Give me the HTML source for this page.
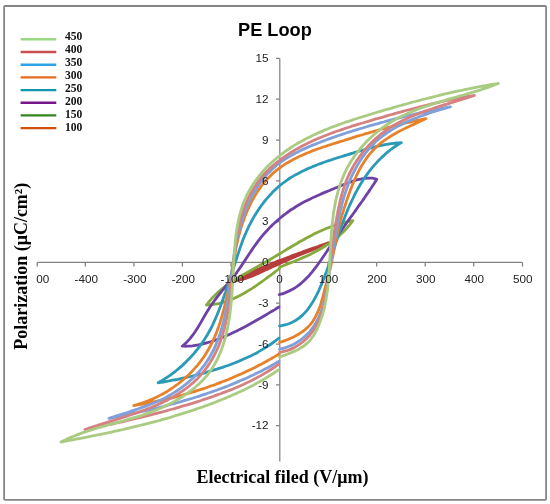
<!DOCTYPE html>
<html><head><meta charset="utf-8"><title>PE Loop</title>
<style>
html,body{margin:0;padding:0;background:#fff;}
svg{display:block;}
.ax{font-family:"Liberation Sans",sans-serif;font-size:11.7px;fill:#222;}
.lg{font-family:"Liberation Serif",serif;font-weight:bold;font-size:11.6px;fill:#111;}
.tt{font-family:"Liberation Serif",serif;font-weight:bold;font-size:18px;fill:#000;}
.curves path{stroke-width:2.8;stroke-linejoin:round;stroke-linecap:round;}
.legend line{stroke-width:2.4;}
</style></head>
<body>
<svg width="550" height="504" viewBox="0 0 550 504">
<rect x="0" y="0" width="550" height="504" fill="#fff"/>
<rect x="4.1" y="6" width="542" height="493.8" fill="none" stroke="#858585" stroke-width="1.8" rx="1"/>
<text x="238" y="36.2" font-family="Liberation Sans, sans-serif" font-weight="bold" font-size="18.2px" fill="#000">PE Loop</text>
<g stroke="#828282" stroke-width="1.25" fill="none">
<path d="M279.8 58.4V461.5"/>
<path d="M37.2 262.4H522.5"/>
<path d="M276 58.4h3.8M276 99.2h3.8M276 140h3.8M276 180.8h3.8M276 221.6h3.8M276 303.2h3.8M276 344h3.8M276 384.8h3.8M276 425.6h3.8"/>
<path d="M37.2 262.4v4M85.3 262.4v4M133.9 262.4v4M182.4 262.4v4M231 262.4v4M328.1 262.4v4M376.6 262.4v4M425.2 262.4v4M473.7 262.4v4M522.5 262.4v4"/>
</g>
<defs><filter id="soft" x="-5%" y="-5%" width="110%" height="110%"><feGaussianBlur stdDeviation="0.35"/></filter></defs>
<g class="curves" fill="none" filter="url(#soft)">
<path d="M279.5 263.4C286.3 260.5 293.1 257.4 300.0 254.6C305.0 252.6 310.0 250.9 315.0 248.8C319.5 246.9 324.0 244.8 328.5 242.8C326.9 243.4 325.3 243.9 323.6 244.5C322.0 245.1 320.4 245.6 318.8 246.2C317.2 246.8 315.6 247.3 313.9 247.9C312.3 248.5 310.7 249.1 309.1 249.6C307.5 250.2 305.9 250.8 304.2 251.4C302.6 252.0 301.0 252.5 299.4 253.1C297.8 253.7 296.2 254.3 294.6 254.9C293.0 255.5 291.4 256.1 289.7 256.7C288.1 257.3 286.5 257.9 284.9 258.5C283.3 259.1 281.7 259.8 280.1 260.4C278.5 261.0 276.9 261.6 275.3 262.3C273.7 262.9 272.1 263.5 270.5 264.2C269.0 264.8 267.4 265.5 265.8 266.1C264.2 266.8 262.6 267.4 261.0 268.1C259.5 268.8 257.9 269.5 256.3 270.1C254.7 270.8 253.2 271.5 251.6 272.2C250.0 272.9 248.5 273.6 246.9 274.3C245.4 275.1 243.8 275.8 242.3 276.5C240.7 277.2 239.2 278.0 237.6 278.7C236.1 279.5 234.5 280.2 233.0 281.0C234.8 280.7 236.7 280.5 238.5 280.2C240.3 279.8 242.1 279.3 243.9 278.8C245.6 278.3 247.4 277.7 249.1 277.1C250.8 276.5 252.5 275.8 254.2 275.1C255.9 274.4 257.6 273.6 259.3 272.9C261.0 272.1 262.7 271.3 264.3 270.5C266.0 269.8 267.7 269.0 269.4 268.2C271.0 267.4 272.7 266.6 274.4 265.9C276.1 265.2 277.8 264.5 279.5 263.8" stroke="#B73E3E" fill="#B73E3E"/>
<path d="M279.5 267.2C281.1 266.6 282.7 265.9 284.3 265.3C285.9 264.7 287.5 264.1 289.1 263.4C290.7 262.8 292.3 262.1 293.9 261.5C295.5 260.8 297.1 260.1 298.7 259.5C300.3 258.8 301.9 258.1 303.5 257.4C305.1 256.7 306.7 256.0 308.3 255.2C309.8 254.5 311.4 253.7 312.9 252.9C314.5 252.2 316.0 251.4 317.5 250.5C319.0 249.7 320.6 248.9 322.0 248.0C323.5 247.1 325.0 246.2 326.4 245.3C327.9 244.4 329.3 243.4 330.7 242.4C332.1 241.5 333.5 240.4 334.8 239.4C336.2 238.3 337.5 237.3 338.8 236.1C340.1 235.0 341.4 233.8 342.6 232.6C343.9 231.4 345.1 230.2 346.2 228.9C347.4 227.6 348.5 226.3 349.6 224.9C350.7 223.6 351.7 222.1 352.8 220.7C351.1 221.0 349.5 221.3 347.8 221.7C346.1 222.0 344.5 222.4 342.9 222.9C341.3 223.3 339.6 223.8 338.0 224.3C336.5 224.8 334.9 225.3 333.3 225.8C331.7 226.4 330.2 227.0 328.6 227.6C327.1 228.2 325.5 228.8 324.0 229.5C322.5 230.1 321.0 230.8 319.5 231.5C318.0 232.2 316.5 232.9 315.0 233.6C313.5 234.4 312.0 235.1 310.5 235.9C309.0 236.7 307.6 237.4 306.1 238.2C304.6 239.0 303.2 239.8 301.7 240.7C300.3 241.5 298.8 242.3 297.4 243.2C295.9 244.0 294.5 244.9 293.0 245.7C291.6 246.6 290.1 247.4 288.7 248.3C287.3 249.2 285.8 250.0 284.4 250.9C282.9 251.8 281.5 252.7 280.1 253.5C278.6 254.4 277.2 255.3 275.7 256.1C274.3 257.0 272.8 257.9 271.4 258.7C269.9 259.6 268.5 260.5 267.0 261.3C265.6 262.1 264.1 263.0 262.6 263.8C261.2 264.6 259.7 265.5 258.2 266.3C256.7 267.1 255.3 267.9 253.8 268.7C252.3 269.5 250.8 270.3 249.4 271.2C247.9 272.0 246.4 272.8 245.0 273.6C243.5 274.5 242.1 275.3 240.6 276.2C239.2 277.0 237.8 277.9 236.4 278.8C234.9 279.6 233.5 280.5 232.2 281.4C230.8 282.4 229.4 283.3 228.1 284.3C226.7 285.2 225.4 286.2 224.1 287.2C222.8 288.2 221.5 289.3 220.2 290.3C218.9 291.4 217.7 292.5 216.5 293.7C215.3 294.8 214.1 296.0 212.9 297.2C211.8 298.4 210.6 299.7 209.6 301.0C208.5 302.3 207.5 303.7 206.4 305.0C208.1 304.9 209.9 304.9 211.6 304.7C213.3 304.5 215.0 304.2 216.7 303.9C218.3 303.6 220.0 303.2 221.7 302.8C223.3 302.4 224.9 301.8 226.6 301.3C228.2 300.7 229.8 300.1 231.4 299.5C233.0 298.8 234.6 298.1 236.2 297.4C237.7 296.6 239.3 295.9 240.8 295.0C242.4 294.2 243.9 293.4 245.4 292.5C246.9 291.6 248.4 290.7 249.9 289.7C251.4 288.8 252.9 287.8 254.4 286.8C255.8 285.9 257.3 284.9 258.7 283.9C260.2 282.8 261.6 281.8 263.0 280.8C264.4 279.8 265.8 278.7 267.2 277.7C268.6 276.7 270.0 275.6 271.4 274.6C272.8 273.6 274.1 272.5 275.5 271.5C276.8 270.5 278.2 269.5 279.5 268.5" stroke="#86AA3A"/>
<path d="M279.2 294.6C280.9 294.1 282.6 293.7 284.3 293.1C285.9 292.5 287.5 291.9 289.0 291.1C290.6 290.4 292.0 289.6 293.5 288.8C294.9 287.9 296.3 287.0 297.6 286.0C299.0 285.1 300.3 284.0 301.5 283.0C302.8 281.9 304.0 280.8 305.2 279.6C306.4 278.4 307.5 277.2 308.7 276.0C309.8 274.8 310.9 273.5 312.0 272.2C313.0 270.9 314.1 269.5 315.1 268.2C316.2 266.8 317.2 265.4 318.2 264.0C319.2 262.6 320.2 261.2 321.2 259.8C322.1 258.4 323.1 256.9 324.1 255.5C325.0 254.1 326.0 252.6 327.0 251.2C327.9 249.7 328.9 248.3 329.9 246.8C330.8 245.4 331.8 244.0 332.8 242.6C333.8 241.1 334.8 239.7 335.7 238.3C336.7 236.9 337.7 235.5 338.7 234.1C339.7 232.7 340.7 231.3 341.7 229.9C342.7 228.5 343.7 227.1 344.7 225.7C345.7 224.3 346.6 222.9 347.6 221.5C348.6 220.1 349.6 218.7 350.6 217.3C351.6 216.0 352.6 214.6 353.6 213.2C354.6 211.8 355.6 210.4 356.6 209.0C357.6 207.6 358.6 206.2 359.5 204.8C360.5 203.5 361.5 202.1 362.5 200.7C363.5 199.3 364.4 197.9 365.4 196.5C366.4 195.1 367.3 193.7 368.3 192.2C369.3 190.8 370.2 189.4 371.2 188.0C372.1 186.6 373.1 185.1 374.0 183.7C374.9 182.3 375.9 180.8 376.8 179.4C375.3 179.0 373.8 178.4 372.3 178.2C370.7 178.0 369.0 178.0 367.4 178.1C365.8 178.2 364.2 178.4 362.6 178.7C361.0 179.0 359.3 179.3 357.7 179.7C356.1 180.1 354.5 180.6 352.9 181.1C351.3 181.6 349.7 182.2 348.1 182.8C346.5 183.4 344.9 184.1 343.3 184.7C341.7 185.3 340.1 186.0 338.5 186.7C336.9 187.4 335.3 188.0 333.7 188.7C332.1 189.3 330.5 190.0 328.9 190.7C327.4 191.3 325.8 192.0 324.2 192.6C322.6 193.3 321.1 194.0 319.5 194.7C318.0 195.3 316.4 196.0 314.9 196.7C313.3 197.4 311.8 198.1 310.3 198.9C308.8 199.6 307.3 200.4 305.8 201.1C304.3 201.9 302.8 202.7 301.3 203.5C299.9 204.3 298.4 205.2 297.0 206.0C295.5 206.9 294.1 207.8 292.7 208.8C291.3 209.7 289.9 210.6 288.5 211.6C287.2 212.6 285.8 213.6 284.5 214.6C283.1 215.7 281.8 216.7 280.5 217.8C279.2 218.9 277.9 220.0 276.7 221.1C275.4 222.2 274.2 223.4 272.9 224.5C271.7 225.7 270.5 226.9 269.3 228.1C268.2 229.3 267.0 230.6 265.9 231.8C264.7 233.1 263.6 234.3 262.5 235.6C261.4 236.9 260.4 238.2 259.3 239.6C258.3 240.9 257.3 242.3 256.3 243.6C255.3 245.0 254.3 246.4 253.3 247.8C252.4 249.2 251.4 250.6 250.5 252.0C249.5 253.4 248.6 254.8 247.7 256.2C246.8 257.6 245.8 259.1 244.9 260.5C244.0 261.9 243.0 263.3 242.1 264.7C241.2 266.1 240.2 267.5 239.3 268.9C238.3 270.3 237.3 271.7 236.3 273.1C235.3 274.4 234.3 275.8 233.3 277.1C232.2 278.4 231.2 279.8 230.1 281.1C229.1 282.4 228.0 283.7 226.9 285.0C225.8 286.3 224.8 287.6 223.7 288.9C222.6 290.2 221.5 291.5 220.5 292.8C219.4 294.1 218.4 295.4 217.3 296.8C216.3 298.1 215.3 299.4 214.3 300.8C213.3 302.1 212.3 303.5 211.3 304.9C210.4 306.3 209.5 307.7 208.6 309.2C207.7 310.6 206.8 312.1 206.0 313.5C205.1 315.0 204.3 316.5 203.4 317.9C202.6 319.4 201.8 320.9 200.9 322.4C200.1 323.8 199.2 325.3 198.3 326.8C197.4 328.2 196.5 329.6 195.6 331.0C194.7 332.4 193.7 333.8 192.7 335.2C191.7 336.5 190.7 337.8 189.6 339.1C188.4 340.4 187.3 341.6 186.1 342.8C184.8 344.0 183.5 345.1 182.2 346.2C183.9 346.2 185.6 346.3 187.2 346.2C188.9 346.2 190.5 346.0 192.2 345.9C193.8 345.7 195.5 345.5 197.1 345.2C198.8 344.9 200.4 344.6 202.0 344.2C203.6 343.8 205.2 343.4 206.8 342.9C208.4 342.5 210.0 342.0 211.6 341.5C213.2 340.9 214.8 340.4 216.4 339.8C217.9 339.2 219.5 338.6 221.1 338.0C222.7 337.4 224.2 336.7 225.8 336.0C227.3 335.4 228.9 334.7 230.4 334.0C232.0 333.3 233.5 332.6 235.0 331.8C236.6 331.1 238.1 330.3 239.6 329.6C241.1 328.8 242.6 328.0 244.1 327.2C245.7 326.4 247.2 325.6 248.6 324.8C250.1 324.0 251.6 323.2 253.1 322.3C254.6 321.5 256.1 320.7 257.5 319.8C259.0 319.0 260.5 318.1 261.9 317.3C263.4 316.4 264.8 315.6 266.2 314.7C267.7 313.9 269.1 313.0 270.5 312.1C272.0 311.3 273.4 310.4 274.8 309.6C276.2 308.7 277.6 307.9 279.0 307.0" stroke="#6E42A4"/>
<path d="M279.5 326.0C281.3 325.6 283.2 325.4 285.0 324.9C286.7 324.5 288.4 323.9 290.1 323.2C291.6 322.6 293.2 321.8 294.6 321.0C296.1 320.2 297.4 319.2 298.8 318.3C300.1 317.3 301.3 316.2 302.5 315.1C303.7 314.0 304.8 312.8 305.9 311.6C307.0 310.4 308.0 309.1 309.0 307.7C310.0 306.4 310.9 305.0 311.8 303.6C312.7 302.2 313.5 300.8 314.3 299.3C315.2 297.8 315.9 296.3 316.7 294.8C317.4 293.3 318.2 291.8 318.9 290.3C319.6 288.7 320.3 287.2 320.9 285.6C321.6 284.1 322.2 282.5 322.9 280.9C323.5 279.4 324.1 277.8 324.7 276.2C325.3 274.6 325.9 273.1 326.5 271.5C327.0 269.9 327.6 268.3 328.2 266.7C328.7 265.1 329.2 263.5 329.8 261.9C330.3 260.2 330.8 258.6 331.4 257.0C331.9 255.4 332.4 253.8 332.9 252.2C333.5 250.5 334.0 248.9 334.5 247.3C335.0 245.7 335.5 244.0 336.0 242.4C336.6 240.8 337.1 239.2 337.6 237.5C338.1 235.9 338.7 234.3 339.2 232.7C339.8 231.1 340.3 229.4 340.9 227.8C341.4 226.2 342.0 224.6 342.6 223.0C343.2 221.4 343.8 219.8 344.4 218.2C345.0 216.6 345.6 215.0 346.3 213.4C346.9 211.8 347.6 210.2 348.2 208.6C348.9 207.0 349.6 205.5 350.3 203.9C351.0 202.4 351.7 200.8 352.5 199.3C353.2 197.7 354.0 196.2 354.7 194.7C355.5 193.2 356.3 191.7 357.1 190.2C357.9 188.7 358.8 187.2 359.6 185.8C360.5 184.3 361.3 182.9 362.2 181.5C363.1 180.0 364.1 178.6 365.0 177.2C366.0 175.9 366.9 174.5 367.9 173.1C368.9 171.8 369.9 170.4 371.0 169.1C372.0 167.8 373.1 166.5 374.2 165.3C375.3 164.0 376.4 162.8 377.5 161.6C378.7 160.3 379.9 159.1 381.1 158.0C382.3 156.8 383.5 155.7 384.8 154.6C386.0 153.4 387.3 152.4 388.6 151.3C390.0 150.2 391.3 149.2 392.7 148.2C394.1 147.2 395.5 146.2 396.9 145.3C398.4 144.4 399.9 143.5 401.4 142.6C399.7 142.7 398.0 142.8 396.3 143.0C394.7 143.2 393.0 143.4 391.4 143.6C389.7 143.8 388.1 144.1 386.4 144.4C384.8 144.7 383.2 145.0 381.6 145.3C380.0 145.7 378.4 146.0 376.7 146.4C375.1 146.8 373.5 147.2 371.9 147.6C370.3 148.0 368.8 148.5 367.2 148.9C365.6 149.4 364.0 149.8 362.4 150.3C360.8 150.8 359.2 151.2 357.6 151.7C356.0 152.2 354.4 152.7 352.8 153.2C351.1 153.7 349.5 154.2 347.9 154.7C346.3 155.2 344.7 155.7 343.0 156.2C341.4 156.7 339.8 157.2 338.1 157.7C336.5 158.2 334.9 158.7 333.2 159.2C331.6 159.8 330.0 160.3 328.3 160.8C326.7 161.4 325.1 162.0 323.5 162.5C321.9 163.1 320.2 163.7 318.6 164.3C317.0 164.9 315.5 165.5 313.9 166.1C312.3 166.8 310.7 167.4 309.2 168.1C307.6 168.8 306.1 169.5 304.5 170.2C303.0 170.9 301.5 171.6 300.0 172.4C298.5 173.2 297.0 174.0 295.6 174.8C294.1 175.6 292.7 176.5 291.3 177.3C289.8 178.2 288.4 179.1 287.1 180.1C285.7 181.0 284.4 182.0 283.1 183.0C281.8 184.0 280.5 185.0 279.2 186.1C277.9 187.2 276.7 188.3 275.5 189.4C274.3 190.6 273.1 191.7 272.0 192.9C270.8 194.1 269.7 195.3 268.6 196.6C267.5 197.8 266.4 199.1 265.3 200.4C264.3 201.7 263.3 203.0 262.3 204.3C261.3 205.7 260.3 207.0 259.3 208.4C258.4 209.8 257.5 211.2 256.6 212.6C255.7 214.0 254.8 215.5 253.9 216.9C253.1 218.4 252.3 219.9 251.5 221.3C250.7 222.8 249.9 224.3 249.1 225.8C248.4 227.4 247.7 228.9 247.0 230.4C246.3 232.0 245.6 233.5 244.9 235.1C244.3 236.6 243.6 238.2 243.0 239.8C242.4 241.3 241.9 242.9 241.3 244.5C240.7 246.1 240.2 247.7 239.6 249.3C239.1 250.9 238.6 252.5 238.0 254.0C237.5 255.6 237.0 257.2 236.5 258.8C235.9 260.4 235.4 262.0 234.9 263.6C234.4 265.2 233.9 266.8 233.4 268.4C232.8 270.0 232.3 271.6 231.8 273.1C231.3 274.7 230.8 276.3 230.3 277.9C229.7 279.5 229.2 281.1 228.7 282.7C228.2 284.3 227.6 285.8 227.1 287.4C226.6 289.0 226.0 290.6 225.5 292.2C224.9 293.8 224.4 295.4 223.8 296.9C223.3 298.5 222.7 300.1 222.1 301.7C221.5 303.2 221.0 304.8 220.4 306.4C219.8 308.0 219.2 309.5 218.6 311.1C218.0 312.7 217.3 314.2 216.7 315.8C216.1 317.3 215.4 318.9 214.7 320.4C214.0 321.9 213.3 323.5 212.6 325.0C211.9 326.5 211.1 328.0 210.3 329.5C209.6 330.9 208.7 332.4 207.9 333.8C207.1 335.3 206.2 336.7 205.3 338.1C204.4 339.6 203.5 341.0 202.5 342.3C201.6 343.7 200.6 345.1 199.6 346.4C198.6 347.8 197.6 349.1 196.5 350.4C195.5 351.7 194.4 353.0 193.3 354.3C192.2 355.5 191.0 356.8 189.9 358.0C188.7 359.2 187.6 360.4 186.4 361.6C185.2 362.8 183.9 363.9 182.7 365.1C181.5 366.2 180.2 367.3 178.9 368.4C177.6 369.5 176.3 370.5 175.0 371.6C173.7 372.6 172.3 373.6 171.0 374.6C169.6 375.6 168.2 376.6 166.8 377.5C165.4 378.4 164.0 379.4 162.6 380.2C161.1 381.1 159.7 381.9 158.2 382.8C159.8 382.5 161.5 382.3 163.1 382.0C164.7 381.7 166.4 381.4 168.0 381.1C169.6 380.9 171.3 380.5 172.9 380.2C174.5 379.9 176.2 379.6 177.8 379.3C179.5 378.9 181.1 378.6 182.7 378.2C184.4 377.9 186.0 377.5 187.6 377.1C189.3 376.8 190.9 376.4 192.5 376.0C194.1 375.6 195.8 375.2 197.4 374.8C199.0 374.3 200.6 373.9 202.3 373.5C203.9 373.0 205.5 372.6 207.1 372.1C208.7 371.7 210.3 371.2 211.9 370.7C213.5 370.2 215.2 369.7 216.8 369.2C218.4 368.7 219.9 368.2 221.5 367.7C223.1 367.1 224.7 366.6 226.3 366.0C227.9 365.5 229.4 364.9 231.0 364.3C232.6 363.8 234.1 363.2 235.7 362.5C237.2 361.9 238.8 361.3 240.3 360.6C241.8 360.0 243.4 359.3 244.9 358.6C246.4 357.9 247.9 357.2 249.4 356.5C250.9 355.8 252.4 355.0 253.9 354.3C255.3 353.5 256.8 352.7 258.3 351.9C259.7 351.1 261.1 350.3 262.6 349.4C264.0 348.6 265.4 347.7 266.8 346.8C268.2 345.9 269.6 345.0 271.0 344.0C272.3 343.1 273.7 342.1 275.0 341.1C276.4 340.1 277.7 339.0 279.0 338.0" stroke="#2B9AB8"/>
<path d="M279.5 342.4C281.1 341.9 282.6 341.5 284.2 340.9C285.8 340.4 287.4 339.8 288.9 339.1C290.5 338.4 292.0 337.7 293.6 337.0C295.1 336.2 296.6 335.4 298.1 334.5C299.5 333.7 300.9 332.7 302.3 331.7C303.7 330.8 305.0 329.7 306.2 328.6C307.5 327.5 308.7 326.3 309.8 325.1C310.8 323.9 311.8 322.6 312.8 321.3C313.7 319.9 314.5 318.5 315.3 317.1C316.1 315.7 316.8 314.2 317.5 312.7C318.2 311.2 318.8 309.6 319.4 308.1C320.0 306.5 320.5 304.9 321.0 303.3C321.5 301.7 322.0 300.1 322.4 298.4C322.9 296.8 323.3 295.2 323.7 293.5C324.2 291.9 324.6 290.3 325.0 288.6C325.4 287.0 325.9 285.4 326.3 283.8C326.7 282.2 327.1 280.6 327.6 278.9C328.0 277.3 328.4 275.7 328.8 274.1C329.2 272.5 329.6 270.9 329.9 269.3C330.3 267.7 330.7 266.1 331.1 264.5C331.4 262.9 331.8 261.3 332.1 259.6C332.4 258.0 332.8 256.4 333.1 254.7C333.4 253.1 333.7 251.5 334.1 249.8C334.4 248.2 334.7 246.6 335.0 244.9C335.3 243.3 335.7 241.6 336.0 240.0C336.3 238.4 336.6 236.7 337.0 235.1C337.3 233.5 337.7 231.8 338.1 230.2C338.4 228.6 338.8 227.0 339.2 225.4C339.6 223.8 340.0 222.2 340.5 220.6C340.9 219.0 341.4 217.4 341.8 215.8C342.3 214.2 342.8 212.7 343.3 211.1C343.7 209.5 344.2 207.9 344.8 206.3C345.3 204.8 345.8 203.2 346.3 201.6C346.9 200.0 347.4 198.4 348.0 196.8C348.5 195.2 349.1 193.6 349.7 192.0C350.2 190.5 350.8 188.9 351.5 187.3C352.1 185.7 352.7 184.2 353.4 182.6C354.0 181.0 354.7 179.5 355.4 178.0C356.1 176.4 356.8 174.9 357.6 173.4C358.3 171.9 359.1 170.4 359.9 168.9C360.7 167.5 361.5 166.0 362.4 164.6C363.2 163.2 364.1 161.8 365.0 160.4C366.0 159.1 366.9 157.7 367.9 156.4C368.9 155.1 369.9 153.8 371.0 152.6C372.1 151.3 373.2 150.1 374.3 149.0C375.5 147.8 376.7 146.6 377.9 145.6C379.2 144.5 380.4 143.4 381.7 142.4C383.1 141.4 384.4 140.4 385.8 139.4C387.2 138.5 388.6 137.6 390.0 136.7C391.4 135.8 392.9 134.9 394.4 134.1C395.8 133.2 397.3 132.4 398.8 131.6C400.3 130.8 401.9 130.0 403.4 129.3C404.9 128.5 406.4 127.8 408.0 127.0C409.5 126.3 411.0 125.6 412.6 124.9C414.1 124.2 415.6 123.5 417.1 122.8C418.6 122.1 420.1 121.4 421.6 120.7C423.1 120.0 424.5 119.3 426.0 118.6C424.3 118.9 422.6 119.3 420.9 119.6C419.3 120.0 417.6 120.3 415.9 120.7C414.3 121.0 412.6 121.4 411.0 121.8C409.3 122.2 407.7 122.5 406.1 122.9C404.4 123.3 402.8 123.7 401.2 124.1C399.6 124.5 398.0 124.9 396.4 125.3C394.8 125.7 393.2 126.1 391.6 126.5C390.0 126.9 388.4 127.3 386.9 127.8C385.3 128.2 383.7 128.6 382.1 129.0C380.6 129.5 379.0 129.9 377.4 130.4C375.8 130.8 374.3 131.2 372.7 131.7C371.1 132.1 369.6 132.6 368.0 133.1C366.4 133.5 364.8 134.0 363.3 134.5C361.7 134.9 360.1 135.4 358.5 135.9C357.0 136.3 355.4 136.8 353.8 137.3C352.2 137.8 350.6 138.3 349.0 138.8C347.4 139.3 345.9 139.8 344.3 140.3C342.6 140.8 341.0 141.3 339.4 141.8C337.8 142.3 336.2 142.8 334.6 143.3C332.9 143.8 331.3 144.4 329.7 144.9C328.0 145.4 326.4 146.0 324.8 146.5C323.2 147.0 321.5 147.6 319.9 148.2C318.3 148.8 316.7 149.3 315.1 149.9C313.5 150.5 311.9 151.1 310.3 151.8C308.7 152.4 307.1 153.1 305.5 153.7C304.0 154.4 302.4 155.1 300.9 155.8C299.3 156.5 297.8 157.2 296.3 158.0C294.8 158.7 293.3 159.5 291.9 160.3C290.4 161.1 288.9 161.9 287.5 162.8C286.1 163.6 284.7 164.5 283.3 165.4C282.0 166.3 280.6 167.2 279.3 168.2C278.0 169.2 276.7 170.2 275.5 171.2C274.2 172.3 273.0 173.3 271.8 174.4C270.6 175.5 269.5 176.7 268.4 177.8C267.3 179.0 266.2 180.2 265.1 181.4C264.1 182.7 263.0 183.9 262.0 185.2C261.1 186.5 260.1 187.8 259.2 189.2C258.2 190.5 257.3 191.9 256.4 193.2C255.6 194.6 254.7 196.0 253.9 197.5C253.1 198.9 252.3 200.4 251.5 201.8C250.8 203.3 250.0 204.8 249.3 206.3C248.6 207.8 247.9 209.3 247.2 210.9C246.6 212.4 245.9 214.0 245.3 215.5C244.7 217.1 244.1 218.7 243.6 220.2C243.0 221.8 242.5 223.4 241.9 225.0C241.4 226.6 240.9 228.3 240.4 229.9C240.0 231.5 239.5 233.1 239.1 234.8C238.7 236.4 238.2 238.0 237.8 239.7C237.5 241.3 237.1 242.9 236.7 244.6C236.4 246.2 236.0 247.9 235.7 249.5C235.4 251.1 235.1 252.8 234.8 254.4C234.5 256.1 234.2 257.7 233.9 259.3C233.6 261.0 233.3 262.6 233.0 264.3C232.7 265.9 232.4 267.5 232.2 269.2C231.9 270.8 231.6 272.4 231.3 274.0C231.0 275.7 230.7 277.3 230.4 278.9C230.1 280.6 229.8 282.2 229.5 283.8C229.1 285.4 228.8 287.1 228.5 288.7C228.2 290.3 227.8 291.9 227.5 293.6C227.1 295.2 226.8 296.8 226.4 298.4C226.1 300.1 225.7 301.7 225.3 303.3C224.9 304.9 224.5 306.6 224.1 308.2C223.7 309.8 223.3 311.4 222.8 313.1C222.4 314.7 221.9 316.3 221.4 317.9C221.0 319.5 220.5 321.1 220.0 322.7C219.4 324.3 218.9 325.9 218.3 327.5C217.8 329.1 217.2 330.6 216.6 332.2C216.0 333.8 215.4 335.3 214.7 336.9C214.0 338.4 213.4 339.9 212.6 341.4C211.9 342.9 211.2 344.4 210.4 345.9C209.6 347.4 208.8 348.8 208.0 350.2C207.2 351.7 206.3 353.1 205.4 354.5C204.5 355.9 203.6 357.2 202.6 358.6C201.6 359.9 200.7 361.3 199.6 362.6C198.6 363.9 197.6 365.2 196.5 366.4C195.4 367.7 194.3 368.9 193.2 370.1C192.1 371.3 190.9 372.5 189.8 373.7C188.6 374.9 187.4 376.0 186.2 377.1C184.9 378.2 183.7 379.3 182.4 380.4C181.2 381.5 179.9 382.5 178.6 383.5C177.2 384.6 175.9 385.5 174.5 386.5C173.2 387.5 171.8 388.4 170.4 389.3C169.0 390.2 167.6 391.1 166.2 392.0C164.7 392.8 163.3 393.6 161.8 394.4C160.4 395.2 158.9 396.0 157.4 396.7C155.9 397.5 154.4 398.2 152.8 398.9C151.3 399.5 149.7 400.2 148.2 400.8C146.6 401.4 145.0 402.0 143.5 402.6C141.9 403.1 140.3 403.6 138.7 404.1C137.1 404.6 135.4 405.0 133.8 405.5C135.4 405.2 137.1 405.0 138.7 404.7C140.4 404.4 142.0 404.2 143.6 403.9C145.3 403.6 146.9 403.3 148.5 403.0C150.2 402.7 151.8 402.3 153.4 402.0C155.1 401.7 156.7 401.3 158.3 401.0C160.0 400.6 161.6 400.3 163.2 399.9C164.8 399.5 166.5 399.1 168.1 398.8C169.7 398.4 171.3 398.0 172.9 397.6C174.6 397.2 176.2 396.7 177.8 396.3C179.4 395.9 181.0 395.4 182.6 395.0C184.2 394.5 185.8 394.1 187.5 393.6C189.1 393.2 190.7 392.7 192.3 392.2C193.9 391.7 195.5 391.2 197.0 390.7C198.6 390.2 200.2 389.7 201.8 389.2C203.4 388.7 205.0 388.1 206.6 387.6C208.2 387.0 209.7 386.5 211.3 385.9C212.9 385.4 214.5 384.8 216.0 384.2C217.6 383.6 219.2 383.0 220.7 382.4C222.3 381.8 223.8 381.2 225.4 380.6C226.9 380.0 228.5 379.4 230.0 378.7C231.6 378.1 233.1 377.5 234.6 376.8C236.2 376.1 237.7 375.5 239.2 374.8C240.8 374.1 242.3 373.4 243.8 372.7C245.3 372.0 246.8 371.3 248.3 370.6C249.8 369.9 251.3 369.2 252.8 368.4C254.3 367.7 255.8 367.0 257.3 366.2C258.7 365.4 260.2 364.7 261.7 363.9C263.2 363.1 264.6 362.3 266.1 361.5C267.5 360.7 269.0 359.9 270.4 359.1C271.9 358.3 273.3 357.4 274.7 356.6C276.2 355.7 277.6 354.9 279.0 354.0" stroke="#E8822A"/>
<path d="M279.5 349.0C281.3 348.6 283.0 348.3 284.8 347.8C286.5 347.3 288.1 346.7 289.7 346.0C291.3 345.4 292.9 344.7 294.4 343.9C295.9 343.1 297.3 342.2 298.7 341.3C300.1 340.4 301.4 339.4 302.7 338.3C304.0 337.3 305.2 336.2 306.4 335.0C307.6 333.9 308.7 332.7 309.8 331.4C310.8 330.2 311.8 328.9 312.8 327.5C313.7 326.2 314.6 324.8 315.5 323.4C316.3 322.0 317.1 320.5 317.8 319.1C318.6 317.6 319.2 316.1 319.9 314.5C320.5 313.0 321.1 311.4 321.6 309.9C322.2 308.3 322.7 306.7 323.1 305.1C323.6 303.4 324.0 301.8 324.4 300.2C324.8 298.5 325.2 296.8 325.5 295.2C325.8 293.5 326.2 291.8 326.5 290.1C326.8 288.5 327.1 286.8 327.3 285.1C327.6 283.4 327.9 281.7 328.1 280.0C328.4 278.3 328.7 276.7 328.9 275.0C329.2 273.3 329.5 271.6 329.7 270.0C330.0 268.3 330.3 266.6 330.5 265.0C330.8 263.3 331.0 261.6 331.3 260.0C331.6 258.3 331.8 256.7 332.1 255.0C332.4 253.4 332.6 251.7 332.9 250.1C333.2 248.4 333.5 246.8 333.8 245.1C334.0 243.5 334.3 241.8 334.6 240.2C334.9 238.6 335.2 236.9 335.5 235.3C335.8 233.6 336.1 232.0 336.4 230.3C336.7 228.7 337.0 227.0 337.3 225.4C337.6 223.7 337.9 222.1 338.3 220.4C338.6 218.8 338.9 217.1 339.3 215.5C339.7 213.8 340.0 212.2 340.4 210.5C340.8 208.9 341.2 207.2 341.6 205.6C342.0 204.0 342.5 202.3 342.9 200.7C343.4 199.1 343.8 197.5 344.3 195.8C344.8 194.2 345.3 192.6 345.9 191.0C346.4 189.4 347.0 187.8 347.6 186.2C348.2 184.6 348.8 183.1 349.4 181.5C350.1 179.9 350.7 178.4 351.4 176.8C352.1 175.3 352.9 173.8 353.6 172.3C354.4 170.7 355.2 169.3 356.0 167.8C356.8 166.3 357.6 164.8 358.5 163.4C359.3 162.0 360.2 160.6 361.2 159.2C362.1 157.8 363.1 156.4 364.0 155.1C365.0 153.7 366.0 152.4 367.1 151.1C368.1 149.8 369.2 148.6 370.3 147.3C371.4 146.1 372.6 144.9 373.8 143.7C374.9 142.6 376.1 141.4 377.4 140.3C378.6 139.2 379.9 138.1 381.2 137.1C382.5 136.1 383.9 135.1 385.2 134.1C386.6 133.1 388.0 132.2 389.4 131.3C390.8 130.4 392.2 129.5 393.7 128.6C395.2 127.8 396.7 126.9 398.2 126.1C399.7 125.3 401.2 124.6 402.7 123.8C404.2 123.1 405.8 122.3 407.4 121.6C408.9 120.9 410.5 120.2 412.1 119.6C413.7 118.9 415.3 118.3 416.9 117.7C418.5 117.0 420.1 116.4 421.7 115.8C423.3 115.3 424.9 114.7 426.5 114.1C428.1 113.6 429.7 113.0 431.4 112.5C433.0 112.0 434.6 111.5 436.2 111.0C437.8 110.5 439.4 110.0 441.0 109.5C442.6 109.1 444.1 108.6 445.7 108.1C447.3 107.7 448.8 107.2 450.4 106.8C448.7 107.1 447.1 107.4 445.4 107.7C443.8 108.0 442.1 108.3 440.4 108.6C438.8 109.0 437.1 109.3 435.5 109.6C433.8 109.9 432.2 110.3 430.6 110.6C428.9 111.0 427.3 111.3 425.6 111.7C424.0 112.0 422.3 112.4 420.7 112.7C419.1 113.1 417.4 113.5 415.8 113.8C414.2 114.2 412.5 114.6 410.9 115.0C409.3 115.4 407.7 115.7 406.0 116.1C404.4 116.5 402.8 116.9 401.2 117.3C399.5 117.7 397.9 118.1 396.3 118.6C394.7 119.0 393.1 119.4 391.5 119.8C389.8 120.2 388.2 120.7 386.6 121.1C385.0 121.5 383.4 122.0 381.8 122.4C380.2 122.9 378.6 123.3 377.0 123.8C375.4 124.2 373.8 124.7 372.2 125.1C370.6 125.6 369.0 126.1 367.4 126.5C365.8 127.0 364.2 127.5 362.6 128.0C361.0 128.4 359.4 128.9 357.8 129.4C356.2 129.9 354.6 130.4 353.0 130.9C351.4 131.4 349.8 131.9 348.2 132.4C346.6 132.9 345.0 133.4 343.5 133.9C341.9 134.5 340.3 135.0 338.7 135.5C337.1 136.1 335.5 136.6 333.9 137.2C332.3 137.7 330.7 138.3 329.1 138.9C327.5 139.5 326.0 140.0 324.4 140.6C322.8 141.2 321.2 141.8 319.6 142.5C318.0 143.1 316.4 143.7 314.8 144.4C313.2 145.0 311.6 145.6 310.0 146.3C308.5 147.0 306.9 147.7 305.3 148.4C303.7 149.1 302.2 149.8 300.6 150.6C299.1 151.3 297.6 152.1 296.1 152.8C294.6 153.6 293.1 154.4 291.6 155.3C290.1 156.1 288.7 157.0 287.2 157.8C285.8 158.7 284.4 159.6 283.0 160.6C281.6 161.5 280.3 162.5 278.9 163.5C277.6 164.5 276.3 165.5 275.1 166.6C273.8 167.6 272.6 168.7 271.4 169.9C270.2 171.0 269.1 172.1 267.9 173.3C266.8 174.5 265.7 175.8 264.7 177.0C263.6 178.3 262.6 179.5 261.6 180.8C260.6 182.1 259.7 183.5 258.7 184.8C257.8 186.2 256.9 187.6 256.0 189.0C255.2 190.4 254.3 191.8 253.5 193.2C252.7 194.7 251.9 196.2 251.2 197.6C250.4 199.1 249.7 200.6 249.0 202.1C248.3 203.7 247.6 205.2 247.0 206.7C246.3 208.3 245.7 209.9 245.1 211.4C244.5 213.0 244.0 214.6 243.4 216.2C242.9 217.8 242.3 219.4 241.8 221.0C241.3 222.6 240.8 224.2 240.4 225.8C239.9 227.5 239.5 229.1 239.1 230.7C238.6 232.4 238.2 234.0 237.9 235.6C237.5 237.3 237.1 238.9 236.8 240.6C236.4 242.2 236.1 243.8 235.8 245.5C235.5 247.1 235.2 248.8 234.9 250.4C234.6 252.1 234.4 253.7 234.1 255.3C233.9 257.0 233.6 258.6 233.4 260.3C233.1 261.9 232.9 263.6 232.7 265.2C232.4 266.9 232.2 268.5 232.0 270.2C231.8 271.8 231.6 273.5 231.3 275.2C231.1 276.8 230.9 278.5 230.7 280.1C230.5 281.8 230.3 283.5 230.0 285.1C229.8 286.8 229.6 288.5 229.3 290.1C229.1 291.8 228.9 293.5 228.6 295.1C228.3 296.8 228.1 298.5 227.8 300.2C227.5 301.8 227.3 303.5 227.0 305.2C226.7 306.9 226.3 308.5 226.0 310.2C225.7 311.9 225.4 313.6 225.0 315.2C224.6 316.9 224.3 318.6 223.9 320.2C223.5 321.9 223.0 323.5 222.6 325.1C222.2 326.8 221.7 328.4 221.2 330.0C220.7 331.6 220.2 333.2 219.7 334.8C219.1 336.4 218.6 338.0 218.0 339.6C217.4 341.1 216.8 342.7 216.1 344.2C215.5 345.7 214.8 347.3 214.1 348.8C213.4 350.3 212.6 351.7 211.8 353.2C211.1 354.6 210.3 356.1 209.4 357.5C208.6 358.9 207.7 360.3 206.7 361.7C205.8 363.0 204.9 364.4 203.9 365.7C202.9 367.0 201.9 368.3 200.8 369.6C199.8 370.9 198.7 372.1 197.6 373.3C196.4 374.6 195.3 375.7 194.1 376.9C192.9 378.1 191.7 379.2 190.5 380.3C189.3 381.5 188.0 382.6 186.7 383.6C185.4 384.7 184.1 385.7 182.8 386.7C181.5 387.7 180.1 388.7 178.7 389.7C177.4 390.6 176.0 391.5 174.5 392.4C173.1 393.3 171.7 394.2 170.2 395.0C168.7 395.9 167.3 396.7 165.8 397.4C164.3 398.2 162.7 399.0 161.2 399.7C159.7 400.4 158.1 401.1 156.6 401.8C155.0 402.5 153.5 403.1 151.9 403.8C150.3 404.4 148.7 405.0 147.1 405.6C145.5 406.2 143.9 406.8 142.3 407.4C140.7 408.0 139.1 408.5 137.5 409.1C135.9 409.6 134.3 410.2 132.7 410.7C131.1 411.2 129.5 411.7 127.9 412.3C126.3 412.8 124.7 413.3 123.1 413.8C121.5 414.3 119.9 414.8 118.3 415.3C116.8 415.8 115.2 416.3 113.6 416.9C112.1 417.4 110.5 417.9 109.0 418.4C110.6 418.1 112.3 417.8 113.9 417.4C115.5 417.1 117.2 416.8 118.8 416.5C120.4 416.1 122.1 415.8 123.7 415.5C125.3 415.1 126.9 414.8 128.6 414.5C130.2 414.1 131.8 413.8 133.5 413.4C135.1 413.1 136.7 412.7 138.4 412.3C140.0 412.0 141.6 411.6 143.3 411.2C144.9 410.9 146.5 410.5 148.1 410.1C149.8 409.7 151.4 409.3 153.0 409.0C154.6 408.6 156.3 408.2 157.9 407.8C159.5 407.4 161.1 407.0 162.8 406.6C164.4 406.1 166.0 405.7 167.6 405.3C169.2 404.9 170.8 404.4 172.5 404.0C174.1 403.6 175.7 403.1 177.3 402.7C178.9 402.2 180.5 401.8 182.1 401.3C183.7 400.9 185.3 400.4 186.9 399.9C188.5 399.4 190.1 399.0 191.7 398.5C193.3 398.0 194.9 397.5 196.5 397.0C198.1 396.5 199.7 396.0 201.3 395.4C202.9 394.9 204.5 394.4 206.0 393.9C207.6 393.3 209.2 392.8 210.8 392.2C212.4 391.7 213.9 391.1 215.5 390.6C217.1 390.0 218.6 389.4 220.2 388.9C221.8 388.3 223.3 387.7 224.9 387.1C226.4 386.5 228.0 385.9 229.5 385.3C231.1 384.6 232.6 384.0 234.2 383.4C235.7 382.7 237.2 382.1 238.8 381.4C240.3 380.8 241.8 380.1 243.4 379.4C244.9 378.8 246.4 378.1 247.9 377.4C249.4 376.7 250.9 376.0 252.4 375.3C253.9 374.6 255.4 373.8 256.9 373.1C258.4 372.4 259.9 371.6 261.4 370.9C262.9 370.1 264.4 369.4 265.9 368.6C267.3 367.8 268.8 367.0 270.3 366.2C271.7 365.4 273.2 364.6 274.7 363.8C276.1 363.0 277.6 362.1 279.0 361.3" stroke="#7FA0DA"/>
<path d="M279.5 352.4C281.3 352.0 283.1 351.7 284.8 351.2C286.5 350.8 288.2 350.2 289.8 349.6C291.4 349.0 292.9 348.2 294.4 347.5C295.9 346.7 297.4 345.8 298.7 344.9C300.1 344.0 301.5 343.1 302.7 342.0C304.0 341.0 305.2 339.9 306.4 338.8C307.5 337.6 308.6 336.4 309.7 335.2C310.7 333.9 311.7 332.7 312.7 331.3C313.6 330.0 314.5 328.6 315.3 327.2C316.2 325.8 316.9 324.4 317.7 322.9C318.4 321.5 319.0 320.0 319.7 318.5C320.3 316.9 320.8 315.4 321.4 313.8C321.9 312.3 322.4 310.7 322.8 309.1C323.3 307.5 323.7 305.8 324.1 304.2C324.4 302.6 324.8 300.9 325.1 299.3C325.4 297.6 325.7 295.9 326.0 294.3C326.3 292.6 326.5 290.9 326.8 289.2C327.0 287.5 327.3 285.8 327.5 284.2C327.7 282.5 327.9 280.8 328.2 279.1C328.4 277.4 328.6 275.8 328.8 274.1C329.0 272.4 329.2 270.7 329.4 269.1C329.6 267.4 329.8 265.8 330.0 264.1C330.2 262.4 330.4 260.8 330.7 259.1C330.9 257.5 331.1 255.8 331.3 254.2C331.5 252.5 331.7 250.9 331.9 249.2C332.1 247.6 332.4 245.9 332.6 244.3C332.8 242.7 333.0 241.0 333.3 239.4C333.5 237.7 333.7 236.1 334.0 234.4C334.2 232.8 334.5 231.2 334.7 229.5C335.0 227.9 335.2 226.2 335.5 224.6C335.8 222.9 336.1 221.3 336.4 219.7C336.6 218.0 336.9 216.4 337.3 214.7C337.6 213.1 337.9 211.4 338.2 209.8C338.5 208.1 338.9 206.4 339.3 204.8C339.6 203.2 340.0 201.5 340.4 199.9C340.8 198.2 341.2 196.6 341.7 195.0C342.1 193.3 342.6 191.7 343.1 190.1C343.6 188.5 344.1 186.9 344.6 185.3C345.2 183.7 345.8 182.2 346.4 180.6C347.0 179.1 347.7 177.5 348.3 176.0C349.0 174.5 349.7 173.0 350.5 171.5C351.3 170.0 352.0 168.5 352.9 167.1C353.7 165.6 354.5 164.2 355.4 162.8C356.3 161.4 357.2 160.0 358.2 158.6C359.1 157.3 360.1 155.9 361.1 154.6C362.1 153.3 363.1 152.0 364.2 150.7C365.2 149.4 366.3 148.2 367.4 146.9C368.5 145.7 369.7 144.5 370.9 143.3C372.0 142.1 373.2 141.0 374.4 139.9C375.6 138.7 376.9 137.6 378.1 136.6C379.4 135.5 380.7 134.4 382.0 133.4C383.3 132.4 384.7 131.4 386.0 130.5C387.4 129.5 388.7 128.6 390.1 127.7C391.5 126.8 392.9 125.9 394.4 125.1C395.8 124.2 397.3 123.4 398.7 122.6C400.2 121.8 401.7 121.1 403.2 120.3C404.7 119.6 406.2 118.9 407.7 118.2C409.3 117.5 410.8 116.8 412.3 116.1C413.9 115.5 415.5 114.8 417.0 114.2C418.6 113.6 420.2 113.0 421.8 112.4C423.3 111.8 424.9 111.2 426.5 110.7C428.1 110.1 429.7 109.5 431.4 109.0C433.0 108.5 434.6 107.9 436.2 107.4C437.8 106.9 439.4 106.4 441.0 105.9C442.7 105.4 444.3 104.9 445.9 104.4C447.5 103.9 449.1 103.4 450.7 102.9C452.3 102.4 453.9 101.9 455.5 101.4C457.1 100.9 458.7 100.4 460.3 99.9C461.9 99.4 463.5 99.0 465.1 98.5C466.6 98.0 468.2 97.5 469.8 96.9C471.3 96.4 472.9 95.9 474.4 95.4C472.7 95.7 471.0 95.9 469.3 96.2C467.7 96.5 466.0 96.8 464.3 97.1C462.7 97.4 461.0 97.7 459.3 98.0C457.7 98.3 456.0 98.7 454.4 99.0C452.7 99.3 451.1 99.7 449.4 100.0C447.8 100.3 446.2 100.7 444.5 101.0C442.9 101.4 441.3 101.8 439.7 102.1C438.1 102.5 436.4 102.9 434.8 103.2C433.2 103.6 431.6 104.0 430.0 104.4C428.4 104.8 426.8 105.2 425.2 105.6C423.6 106.0 421.9 106.4 420.3 106.8C418.7 107.2 417.1 107.6 415.5 108.0C413.9 108.4 412.3 108.8 410.8 109.3C409.2 109.7 407.6 110.1 406.0 110.5C404.4 111.0 402.8 111.4 401.2 111.9C399.6 112.3 398.0 112.7 396.4 113.2C394.8 113.6 393.2 114.1 391.6 114.5C390.0 115.0 388.4 115.4 386.8 115.9C385.2 116.4 383.6 116.8 382.0 117.3C380.4 117.7 378.8 118.2 377.2 118.7C375.6 119.1 373.9 119.6 372.3 120.1C370.7 120.6 369.1 121.0 367.5 121.5C365.9 122.0 364.2 122.5 362.6 123.0C361.0 123.4 359.4 123.9 357.8 124.4C356.2 124.9 354.5 125.4 352.9 125.9C351.3 126.4 349.7 127.0 348.1 127.5C346.5 128.0 344.8 128.5 343.2 129.1C341.6 129.6 340.0 130.1 338.4 130.7C336.8 131.3 335.2 131.8 333.6 132.4C332.0 133.0 330.5 133.6 328.9 134.2C327.3 134.8 325.7 135.4 324.2 136.0C322.6 136.6 321.0 137.3 319.5 137.9C317.9 138.6 316.4 139.3 314.9 139.9C313.3 140.6 311.8 141.3 310.3 142.0C308.8 142.7 307.3 143.5 305.8 144.2C304.3 145.0 302.8 145.7 301.3 146.5C299.8 147.3 298.4 148.1 296.9 148.9C295.5 149.8 294.1 150.6 292.6 151.5C291.2 152.3 289.8 153.2 288.4 154.1C287.0 155.0 285.7 155.9 284.3 156.9C282.9 157.8 281.6 158.8 280.3 159.8C278.9 160.8 277.6 161.8 276.3 162.9C275.0 163.9 273.8 165.0 272.5 166.1C271.3 167.2 270.0 168.3 268.8 169.5C267.6 170.6 266.5 171.8 265.3 173.0C264.2 174.2 263.1 175.4 262.0 176.7C261.0 178.0 259.9 179.3 258.9 180.6C257.9 181.9 257.0 183.3 256.0 184.7C255.1 186.0 254.2 187.4 253.3 188.8C252.5 190.3 251.6 191.7 250.8 193.2C250.0 194.6 249.3 196.1 248.5 197.6C247.8 199.1 247.1 200.6 246.5 202.1C245.8 203.6 245.2 205.2 244.6 206.7C244.0 208.2 243.5 209.8 242.9 211.4C242.4 212.9 241.9 214.5 241.4 216.1C241.0 217.7 240.5 219.3 240.1 220.9C239.7 222.5 239.3 224.2 238.9 225.8C238.6 227.4 238.2 229.0 237.9 230.7C237.5 232.3 237.2 234.0 237.0 235.6C236.7 237.3 236.4 238.9 236.1 240.6C235.9 242.3 235.6 243.9 235.4 245.6C235.2 247.3 234.9 249.0 234.7 250.6C234.5 252.3 234.3 254.0 234.1 255.7C233.9 257.4 233.8 259.0 233.6 260.7C233.4 262.4 233.2 264.1 233.1 265.8C232.9 267.5 232.8 269.2 232.6 270.9C232.4 272.6 232.3 274.3 232.1 275.9C232.0 277.6 231.8 279.3 231.6 281.0C231.5 282.7 231.3 284.4 231.2 286.1C231.0 287.8 230.8 289.4 230.6 291.1C230.5 292.8 230.3 294.5 230.1 296.2C229.9 297.8 229.7 299.5 229.4 301.2C229.2 302.8 229.0 304.5 228.8 306.1C228.5 307.8 228.3 309.4 228.0 311.1C227.7 312.7 227.4 314.4 227.1 316.0C226.8 317.6 226.5 319.2 226.1 320.9C225.8 322.5 225.4 324.1 225.0 325.7C224.7 327.3 224.3 328.9 223.8 330.5C223.4 332.0 222.9 333.6 222.4 335.2C222.0 336.7 221.4 338.3 220.9 339.8C220.4 341.4 219.8 342.9 219.2 344.4C218.6 346.0 218.0 347.5 217.3 349.0C216.6 350.5 215.9 352.0 215.2 353.4C214.4 354.9 213.7 356.4 212.9 357.8C212.1 359.3 211.2 360.7 210.3 362.1C209.5 363.5 208.5 364.9 207.6 366.3C206.6 367.6 205.6 369.0 204.6 370.3C203.6 371.6 202.5 372.9 201.4 374.2C200.4 375.5 199.2 376.7 198.1 377.9C196.9 379.1 195.7 380.3 194.5 381.4C193.3 382.6 192.0 383.7 190.7 384.7C189.4 385.8 188.1 386.9 186.8 387.9C185.4 388.9 184.1 389.9 182.7 390.9C181.3 391.8 179.9 392.7 178.5 393.7C177.1 394.6 175.6 395.4 174.2 396.3C172.7 397.1 171.3 398.0 169.8 398.8C168.3 399.6 166.8 400.3 165.3 401.1C163.8 401.8 162.3 402.6 160.8 403.3C159.3 404.0 157.8 404.7 156.2 405.3C154.7 406.0 153.1 406.7 151.6 407.3C150.0 407.9 148.5 408.5 146.9 409.1C145.3 409.7 143.8 410.3 142.2 410.9C140.6 411.5 139.0 412.0 137.4 412.6C135.8 413.1 134.3 413.7 132.7 414.2C131.1 414.7 129.5 415.3 127.9 415.8C126.3 416.3 124.7 416.8 123.1 417.3C121.5 417.8 119.9 418.3 118.3 418.8C116.7 419.3 115.1 419.8 113.5 420.3C111.9 420.8 110.3 421.3 108.7 421.8C107.1 422.3 105.5 422.8 103.9 423.3C102.3 423.8 100.7 424.3 99.1 424.8C97.5 425.3 95.9 425.8 94.4 426.3C92.8 426.9 91.2 427.4 89.7 427.9C88.1 428.5 86.6 429.0 85.0 429.6C86.6 429.3 88.3 428.9 89.9 428.6C91.5 428.3 93.2 428.0 94.8 427.6C96.4 427.3 98.1 426.9 99.7 426.6C101.3 426.3 102.9 425.9 104.6 425.6C106.2 425.2 107.8 424.9 109.5 424.5C111.1 424.2 112.7 423.8 114.4 423.5C116.0 423.1 117.6 422.8 119.3 422.4C120.9 422.0 122.5 421.7 124.2 421.3C125.8 420.9 127.4 420.5 129.0 420.2C130.7 419.8 132.3 419.4 133.9 419.0C135.6 418.6 137.2 418.2 138.8 417.9C140.4 417.5 142.1 417.1 143.7 416.7C145.3 416.3 147.0 415.9 148.6 415.4C150.2 415.0 151.8 414.6 153.4 414.2C155.1 413.8 156.7 413.4 158.3 412.9C159.9 412.5 161.6 412.1 163.2 411.7C164.8 411.2 166.4 410.8 168.0 410.3C169.6 409.9 171.2 409.4 172.9 409.0C174.5 408.5 176.1 408.1 177.7 407.6C179.3 407.1 180.9 406.7 182.5 406.2C184.1 405.7 185.7 405.2 187.3 404.8C188.9 404.3 190.5 403.8 192.1 403.3C193.7 402.8 195.3 402.3 196.9 401.8C198.5 401.3 200.1 400.8 201.7 400.2C203.3 399.7 204.9 399.2 206.5 398.7C208.1 398.1 209.6 397.6 211.2 397.1C212.8 396.5 214.4 396.0 216.0 395.4C217.5 394.8 219.1 394.3 220.7 393.7C222.2 393.1 223.8 392.5 225.4 391.9C226.9 391.3 228.5 390.7 230.0 390.1C231.6 389.5 233.1 388.9 234.6 388.2C236.2 387.6 237.7 386.9 239.2 386.2C240.8 385.6 242.3 384.9 243.8 384.2C245.3 383.5 246.8 382.8 248.3 382.1C249.8 381.4 251.3 380.6 252.8 379.9C254.3 379.1 255.7 378.3 257.2 377.6C258.7 376.8 260.1 376.0 261.6 375.1C263.0 374.3 264.5 373.5 265.9 372.6C267.3 371.8 268.8 370.9 270.2 370.0C271.6 369.1 273.0 368.2 274.4 367.3C275.8 366.3 277.1 365.4 278.5 364.4" stroke="#D68181"/>
<path d="M279.5 357.0C281.1 356.5 282.6 356.0 284.2 355.4C285.8 354.8 287.4 354.3 288.9 353.6C290.5 353.0 292.1 352.4 293.7 351.6C295.3 350.9 296.8 350.2 298.3 349.4C299.8 348.5 301.3 347.7 302.7 346.7C304.1 345.8 305.4 344.8 306.7 343.6C307.9 342.5 309.1 341.3 310.2 340.1C311.2 338.8 312.2 337.5 313.1 336.1C314.1 334.7 314.9 333.2 315.7 331.8C316.5 330.3 317.2 328.8 317.9 327.3C318.5 325.7 319.2 324.2 319.8 322.6C320.4 321.1 320.9 319.5 321.4 318.0C322.0 316.4 322.5 314.8 322.9 313.3C323.4 311.7 323.8 310.1 324.2 308.5C324.5 306.9 324.9 305.3 325.2 303.7C325.6 302.0 325.9 300.4 326.1 298.8C326.4 297.2 326.7 295.5 326.9 293.9C327.2 292.3 327.4 290.6 327.6 289.0C327.8 287.3 327.9 285.6 328.1 284.0C328.3 282.3 328.4 280.6 328.6 279.0C328.7 277.3 328.8 275.6 329.0 273.9C329.1 272.2 329.2 270.5 329.3 268.9C329.4 267.2 329.5 265.5 329.6 263.8C329.7 262.1 329.8 260.4 329.9 258.7C330.0 257.0 330.1 255.3 330.2 253.6C330.3 251.8 330.4 250.1 330.5 248.4C330.6 246.7 330.7 245.0 330.8 243.3C330.9 241.6 331.0 239.9 331.1 238.2C331.2 236.5 331.3 234.8 331.5 233.1C331.6 231.4 331.7 229.7 331.9 228.0C332.0 226.3 332.2 224.6 332.4 223.0C332.6 221.3 332.8 219.6 333.0 217.9C333.2 216.2 333.4 214.6 333.6 212.9C333.9 211.3 334.1 209.6 334.4 207.9C334.7 206.3 335.0 204.7 335.3 203.0C335.6 201.4 336.0 199.8 336.3 198.1C336.7 196.5 337.1 194.9 337.5 193.3C337.9 191.7 338.4 190.1 338.9 188.6C339.3 187.0 339.8 185.4 340.4 183.9C340.9 182.3 341.5 180.8 342.1 179.2C342.7 177.7 343.3 176.2 344.0 174.7C344.6 173.2 345.3 171.7 346.1 170.2C346.8 168.7 347.6 167.3 348.4 165.8C349.2 164.4 350.1 163.0 350.9 161.5C351.8 160.1 352.7 158.7 353.7 157.4C354.6 156.0 355.6 154.6 356.6 153.3C357.6 151.9 358.6 150.6 359.7 149.3C360.8 148.0 361.9 146.7 363.0 145.5C364.1 144.2 365.3 143.0 366.4 141.8C367.6 140.6 368.8 139.4 370.0 138.2C371.2 137.0 372.5 135.9 373.8 134.8C375.0 133.7 376.3 132.6 377.6 131.5C378.9 130.5 380.3 129.4 381.6 128.4C383.0 127.4 384.3 126.5 385.7 125.5C387.1 124.6 388.5 123.7 389.9 122.8C391.3 121.9 392.8 121.0 394.2 120.2C395.7 119.4 397.1 118.6 398.6 117.8C400.1 117.0 401.6 116.3 403.1 115.6C404.6 114.8 406.1 114.1 407.6 113.4C409.1 112.8 410.7 112.1 412.2 111.5C413.7 110.8 415.3 110.2 416.9 109.6C418.4 109.0 420.0 108.4 421.6 107.8C423.1 107.3 424.7 106.7 426.3 106.2C427.9 105.6 429.5 105.1 431.1 104.6C432.7 104.0 434.3 103.5 435.9 103.0C437.6 102.5 439.2 102.1 440.8 101.6C442.4 101.1 444.0 100.6 445.7 100.1C447.3 99.7 448.9 99.2 450.5 98.7C452.2 98.3 453.8 97.8 455.4 97.3C457.1 96.9 458.7 96.4 460.3 95.9C461.9 95.5 463.6 95.0 465.2 94.5C466.8 94.1 468.4 93.6 470.0 93.1C471.6 92.6 473.3 92.2 474.9 91.7C476.5 91.2 478.1 90.7 479.7 90.1C481.2 89.6 482.8 89.1 484.4 88.6C486.0 88.1 487.6 87.5 489.1 86.9C490.7 86.4 492.2 85.8 493.8 85.2C495.3 84.6 496.9 84.0 498.4 83.4C496.7 83.7 495.0 83.9 493.3 84.2C491.7 84.5 490.0 84.8 488.3 85.1C486.6 85.4 485.0 85.7 483.3 86.0C481.6 86.3 480.0 86.6 478.3 86.9C476.7 87.2 475.0 87.5 473.4 87.8C471.7 88.2 470.1 88.5 468.4 88.8C466.8 89.2 465.1 89.5 463.5 89.9C461.9 90.2 460.2 90.5 458.6 90.9C457.0 91.3 455.3 91.6 453.7 92.0C452.1 92.3 450.5 92.7 448.8 93.1C447.2 93.5 445.6 93.8 444.0 94.2C442.4 94.6 440.8 95.0 439.1 95.4C437.5 95.8 435.9 96.2 434.3 96.6C432.7 97.0 431.1 97.4 429.5 97.8C427.9 98.2 426.3 98.6 424.7 99.0C423.1 99.4 421.4 99.8 419.8 100.3C418.2 100.7 416.6 101.1 415.0 101.5C413.4 102.0 411.8 102.4 410.2 102.8C408.6 103.3 407.0 103.7 405.4 104.2C403.8 104.6 402.2 105.1 400.6 105.5C399.0 106.0 397.4 106.4 395.8 106.9C394.2 107.3 392.6 107.8 391.0 108.3C389.3 108.7 387.7 109.2 386.1 109.7C384.5 110.1 382.9 110.6 381.3 111.1C379.7 111.6 378.1 112.0 376.4 112.5C374.8 113.0 373.2 113.5 371.6 114.0C370.0 114.5 368.3 115.0 366.7 115.5C365.1 116.0 363.5 116.5 361.8 117.0C360.2 117.5 358.6 118.0 357.0 118.5C355.4 119.0 353.7 119.5 352.1 120.1C350.5 120.6 348.9 121.1 347.3 121.7C345.7 122.2 344.1 122.8 342.5 123.3C340.8 123.9 339.2 124.5 337.6 125.1C336.1 125.6 334.5 126.2 332.9 126.8C331.3 127.5 329.7 128.1 328.1 128.7C326.6 129.3 325.0 130.0 323.5 130.6C321.9 131.3 320.3 132.0 318.8 132.6C317.3 133.3 315.7 134.0 314.2 134.7C312.7 135.4 311.2 136.2 309.7 136.9C308.2 137.7 306.7 138.4 305.2 139.2C303.7 140.0 302.3 140.8 300.8 141.6C299.4 142.4 297.9 143.2 296.5 144.1C295.1 144.9 293.6 145.8 292.2 146.7C290.8 147.6 289.5 148.5 288.1 149.5C286.7 150.4 285.4 151.4 284.0 152.3C282.7 153.3 281.4 154.3 280.1 155.3C278.7 156.4 277.5 157.4 276.2 158.5C274.9 159.6 273.7 160.7 272.4 161.8C271.2 162.9 270.0 164.1 268.8 165.2C267.6 166.4 266.5 167.6 265.3 168.8C264.2 170.0 263.1 171.2 262.0 172.5C260.9 173.7 259.9 175.0 258.8 176.3C257.8 177.6 256.8 178.9 255.8 180.3C254.9 181.6 253.9 183.0 253.0 184.4C252.1 185.8 251.2 187.2 250.4 188.6C249.6 190.1 248.8 191.5 248.0 193.0C247.2 194.4 246.5 195.9 245.8 197.5C245.1 199.0 244.4 200.5 243.8 202.1C243.2 203.6 242.6 205.2 242.1 206.8C241.6 208.4 241.1 210.0 240.6 211.6C240.1 213.2 239.7 214.9 239.3 216.5C238.9 218.2 238.5 219.8 238.2 221.5C237.9 223.2 237.6 224.8 237.3 226.5C237.0 228.2 236.7 229.9 236.5 231.6C236.2 233.2 236.0 234.9 235.8 236.6C235.6 238.3 235.4 240.0 235.2 241.6C235.1 243.3 234.9 245.0 234.8 246.7C234.6 248.3 234.5 250.0 234.4 251.7C234.2 253.3 234.1 255.0 234.0 256.7C233.9 258.3 233.8 260.0 233.7 261.6C233.6 263.3 233.5 264.9 233.4 266.6C233.4 268.3 233.3 269.9 233.2 271.6C233.1 273.2 233.0 274.9 233.0 276.6C232.9 278.2 232.8 279.9 232.7 281.5C232.6 283.2 232.5 284.9 232.4 286.5C232.3 288.2 232.2 289.8 232.1 291.5C232.0 293.2 231.9 294.8 231.8 296.5C231.6 298.2 231.5 299.9 231.3 301.5C231.2 303.2 231.0 304.9 230.8 306.6C230.6 308.3 230.4 310.0 230.2 311.6C230.0 313.3 229.8 315.0 229.5 316.7C229.3 318.4 229.0 320.1 228.7 321.8C228.4 323.5 228.1 325.1 227.8 326.8C227.4 328.5 227.1 330.2 226.7 331.8C226.3 333.5 225.9 335.1 225.5 336.8C225.1 338.4 224.6 340.0 224.1 341.7C223.6 343.3 223.1 344.9 222.6 346.5C222.0 348.0 221.4 349.6 220.8 351.2C220.2 352.7 219.6 354.3 218.9 355.8C218.2 357.3 217.5 358.8 216.8 360.3C216.0 361.7 215.2 363.2 214.4 364.6C213.6 366.0 212.7 367.4 211.8 368.8C210.9 370.1 210.0 371.5 209.0 372.8C208.0 374.1 207.0 375.4 206.0 376.6C204.9 377.9 203.8 379.1 202.7 380.3C201.5 381.5 200.4 382.6 199.2 383.7C198.0 384.9 196.7 386.0 195.5 387.1C194.2 388.1 192.9 389.2 191.6 390.2C190.3 391.2 189.0 392.2 187.6 393.2C186.2 394.2 184.8 395.1 183.4 396.0C182.0 397.0 180.6 397.9 179.1 398.7C177.6 399.6 176.2 400.4 174.7 401.3C173.2 402.1 171.7 402.9 170.2 403.7C168.6 404.4 167.1 405.2 165.6 405.9C164.0 406.6 162.4 407.3 160.9 408.0C159.3 408.7 157.7 409.4 156.2 410.0C154.6 410.7 153.0 411.3 151.4 411.9C149.8 412.5 148.2 413.1 146.6 413.6C145.0 414.2 143.5 414.7 141.9 415.3C140.3 415.8 138.7 416.3 137.1 416.8C135.5 417.3 133.9 417.8 132.3 418.2C130.7 418.7 129.1 419.2 127.5 419.6C125.9 420.1 124.3 420.5 122.7 421.0C121.1 421.4 119.5 421.9 117.8 422.3C116.2 422.8 114.6 423.2 113.0 423.6C111.4 424.1 109.8 424.5 108.2 424.9C106.6 425.4 105.1 425.8 103.5 426.3C101.9 426.7 100.3 427.2 98.7 427.7C97.1 428.1 95.5 428.6 93.9 429.1C92.3 429.6 90.7 430.1 89.1 430.6C87.6 431.1 86.0 431.6 84.4 432.2C82.8 432.7 81.2 433.3 79.7 433.9C78.1 434.5 76.5 435.1 75.0 435.7C73.4 436.3 71.8 437.0 70.3 437.6C68.7 438.3 67.2 439.0 65.6 439.7C64.1 440.5 62.5 441.2 61.0 442.0C62.6 441.7 64.3 441.4 65.9 441.1C67.5 440.8 69.2 440.5 70.8 440.2C72.4 439.9 74.1 439.6 75.7 439.2C77.3 438.9 79.0 438.6 80.6 438.3C82.2 438.0 83.9 437.7 85.5 437.3C87.1 437.0 88.8 436.7 90.4 436.4C92.1 436.0 93.7 435.7 95.3 435.4C97.0 435.0 98.6 434.7 100.3 434.4C101.9 434.0 103.5 433.7 105.2 433.3C106.8 433.0 108.4 432.7 110.1 432.3C111.7 432.0 113.4 431.6 115.0 431.2C116.6 430.9 118.3 430.5 119.9 430.1C121.5 429.8 123.2 429.4 124.8 429.0C126.4 428.7 128.1 428.3 129.7 427.9C131.4 427.5 133.0 427.1 134.6 426.7C136.2 426.3 137.9 425.9 139.5 425.5C141.1 425.1 142.8 424.7 144.4 424.3C146.0 423.9 147.6 423.5 149.3 423.1C150.9 422.6 152.5 422.2 154.1 421.8C155.8 421.4 157.4 420.9 159.0 420.5C160.6 420.0 162.2 419.6 163.8 419.1C165.5 418.7 167.1 418.2 168.7 417.8C170.3 417.3 171.9 416.8 173.5 416.3C175.1 415.9 176.7 415.4 178.3 414.9C179.9 414.4 181.5 413.9 183.1 413.4C184.7 412.9 186.3 412.4 187.9 411.9C189.5 411.4 191.1 410.8 192.7 410.3C194.3 409.8 195.9 409.2 197.4 408.7C199.0 408.2 200.6 407.6 202.2 407.1C203.8 406.5 205.3 405.9 206.9 405.4C208.5 404.8 210.0 404.2 211.6 403.6C213.2 403.0 214.7 402.4 216.3 401.8C217.8 401.2 219.4 400.6 220.9 400.0C222.5 399.4 224.0 398.7 225.6 398.1C227.1 397.5 228.6 396.8 230.2 396.1C231.7 395.5 233.2 394.8 234.7 394.1C236.3 393.4 237.8 392.8 239.3 392.1C240.8 391.4 242.3 390.6 243.8 389.9C245.3 389.2 246.8 388.4 248.3 387.7C249.8 386.9 251.2 386.2 252.7 385.4C254.2 384.6 255.7 383.8 257.1 383.0C258.6 382.2 260.0 381.4 261.5 380.6C262.9 379.8 264.4 378.9 265.8 378.1C267.2 377.2 268.7 376.4 270.1 375.5C271.5 374.6 272.9 373.7 274.3 372.8C275.7 371.9 277.1 370.9 278.5 370.0" stroke="#AACB82"/>
</g>
<g class="ax" text-anchor="end">
<text x="268.6" y="62.1">15</text>
<text x="268.6" y="102.9">12</text>
<text x="268.6" y="143.7">9</text>
<text x="268.6" y="184.5">6</text>
<text x="268.6" y="225.3">3</text>
<text x="268.6" y="266.1">0</text>
<text x="268.6" y="306.9">-3</text>
<text x="268.6" y="347.7">-6</text>
<text x="268.6" y="388.5">-9</text>
<text x="268.6" y="429.3">-12</text>
</g>
<g class="ax" text-anchor="middle">
<text x="42.7" y="283.2">00</text>
<text x="86.3" y="283.2">-400</text>
<text x="134.9" y="283.2">-300</text>
<text x="183.4" y="283.2">-200</text>
<text x="232.3" y="283.2">-100</text>
<text x="279.6" y="283.2">0</text>
<text x="328.6" y="283.2">100</text>
<text x="377.1" y="283.2">200</text>
<text x="425.7" y="283.2">300</text>
<text x="474.2" y="283.2">400</text>
<text x="522.8" y="283.2">500</text>
</g>
<g class="legend">
<line x1="20.6" x2="56.3" y1="39.2" y2="39.2" stroke="#98D982"/>
<line x1="20.6" x2="56.3" y1="52" y2="52" stroke="#C9504F"/>
<line x1="20.6" x2="56.3" y1="64.7" y2="64.7" stroke="#2FA3E8"/>
<line x1="20.6" x2="56.3" y1="77.4" y2="77.4" stroke="#E56B1F"/>
<line x1="20.6" x2="56.3" y1="90.1" y2="90.1" stroke="#1497AE"/>
<line x1="20.6" x2="56.3" y1="102.8" y2="102.8" stroke="#74168A"/>
<line x1="20.6" x2="56.3" y1="115.4" y2="115.4" stroke="#34851F"/>
<line x1="20.6" x2="56.3" y1="128.1" y2="128.1" stroke="#CF4F0B"/>
</g>
<g class="lg">
<text x="65" y="40.3">450</text>
<text x="65" y="53.3">400</text>
<text x="65" y="66.3">350</text>
<text x="65" y="79.4">300</text>
<text x="65" y="92.4">250</text>
<text x="65" y="105.4">200</text>
<text x="65" y="118.4">150</text>
<text x="65" y="131.4">100</text>
</g>
<text class="tt" x="196.4" y="483.4">Electrical filed (V/μm)</text>
<text class="tt" transform="translate(27.3 349.8) rotate(-90)">Polarization (μC/cm²)</text>
</svg>
</body></html>
